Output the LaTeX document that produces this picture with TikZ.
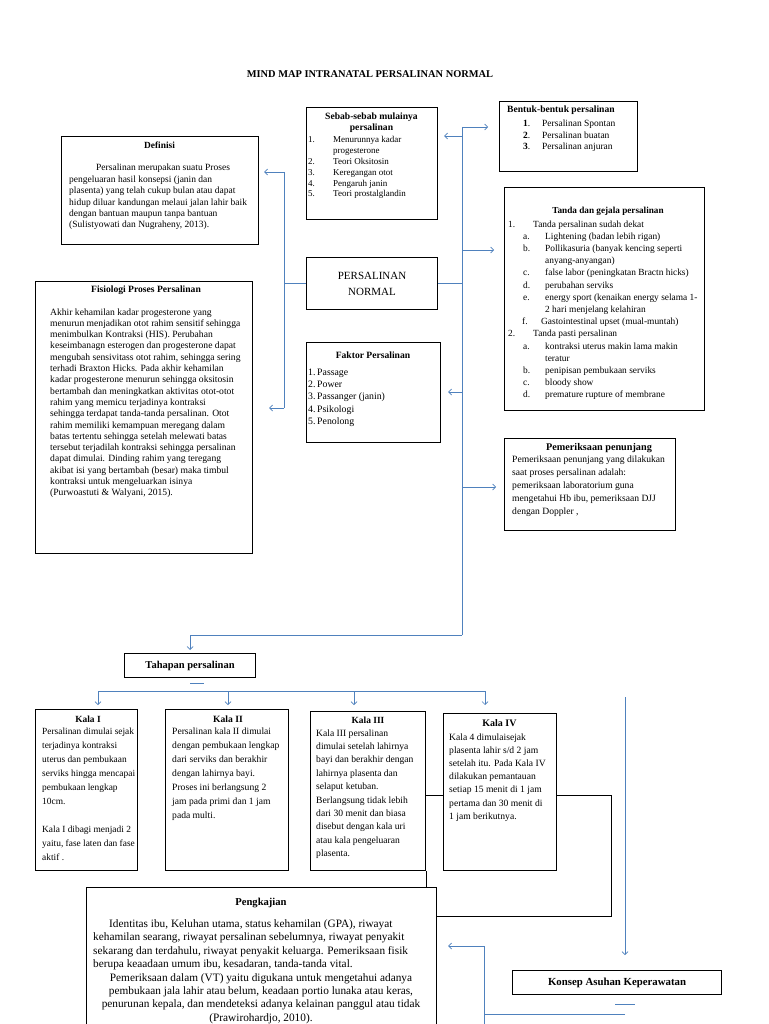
\documentclass[tikz,border=0pt]{standalone}
\usepackage{fontspec}
\setmainfont{Liberation Serif}
\usetikzlibrary{arrows.meta}
\definecolor{lineblue}{RGB}{79,129,189}
\newcommand\lbl[2]{\makebox[#1][l]{#2}}
\newcommand\fs[2]{\fontsize{#1}{#2}\selectfont}
\begin{document}
\begin{tikzpicture}[x=1pt,y=-1pt,
  box/.style={draw=black, line width=1.1pt, inner sep=0pt, anchor=north west},
  txt/.style={inner sep=0pt, align=left, anchor=base west},
  ctxt/.style={inner sep=0pt, align=center, anchor=base},
  conn/.style={draw=lineblue, line width=0.7pt},
  arr/.style={conn, -{Straight Barb[length=3pt,width=6pt]}},
  blk/.style={draw=black, line width=0.7pt}]
\useasboundingbox (0,0) rectangle (768,1024);
\fill[white] (0,0) rectangle (768,1024);

% title
\node[ctxt, font=\fs{10.4}{12}\bfseries] (title) at (370,78) {MIND MAP INTRANATAL PERSALINAN NORMAL};

% boxes
\node[box, minimum width=197pt, minimum height=108pt] (def) at (61,136) {};
\node[box, minimum width=131pt, minimum height=112pt] (seb) at (306,107) {};
\node[box, minimum width=138pt, minimum height=70pt] (ben) at (499,101) {};
\node[box, minimum width=200pt, minimum height=223pt] (tan) at (504,187) {};
\node[box, minimum width=131pt, minimum height=52pt, align=center, font=\fs{11}{16}] (pn) at (306,257) {PERSALINAN\\NORMAL};
\node[box, minimum width=217pt, minimum height=272pt] (fis) at (35,281) {};
\node[box, minimum width=134pt, minimum height=100pt] (fak) at (306,342) {};
\node[box, minimum width=171pt, minimum height=92pt] (pem) at (504,438) {};
\node[box, minimum width=131pt, minimum height=24pt, font=\fs{10.5}{12}\bfseries] (tah) at (124,653) {Tahapan persalinan};
\node[box, minimum width=102pt, minimum height=161pt] (k1) at (35,709) {};
\node[box, minimum width=123pt, minimum height=161pt] (k2) at (165,709) {};
\node[box, minimum width=115pt, minimum height=159pt] (k3) at (310,711) {};
\node[box, minimum width=113pt, minimum height=157pt] (k4) at (443,713) {};
\node[box, minimum width=350pt, minimum height=145pt] (pen) at (86,887) {};
\node[box, minimum width=209pt, minimum height=24pt, font=\fs{10.8}{12}\bfseries] (kon) at (512,970) {Konsep Asuhan Keperawatan};

% Definisi (multi-line nodes: base = last line's baseline)
\node[ctxt, font=\fs{9.4}{10}\bfseries] (defH) at (159.5,149) {Definisi};
\node[txt, font=\fs{9.5}{11.4}] (defT) at (69,228) {\hspace*{27pt}Persalinan merupakan suatu Proses\\pengeluaran hasil konsepsi (janin dan\\plasenta) yang telah cukup bulan atau dapat\\hidup diluar kandungan melaui jalan lahir baik\\dengan bantuan maupun tanpa bantuan\\(Sulistyowati dan Nugraheny, 2013).};

% Sebab
\node[ctxt, font=\fs{9.6}{10.8}\bfseries] (sebH) at (371.5,130.8) {Sebab-sebab mulainya\\persalinan};
\node[txt, font=\fs{9}{10.8}] (sebT) at (308,197) {\lbl{25pt}{1.}Menurunnya kadar\\\hspace*{25pt}progesterone\\\lbl{25pt}{2.}Teori Oksitosin\\\lbl{25pt}{3.}Keregangan otot\\\lbl{25pt}{4.}Pengaruh janin\\\lbl{25pt}{5.}Teori prostalglandin};

% Bentuk
\node[txt, font=\fs{9.6}{10}\bfseries] (benH) at (507,113) {Bentuk-bentuk persalinan};
\node[txt, font=\fs{9.5}{11.5}] (benT) at (523,150) {\lbl{19pt}{\textbf{1}.}Persalinan Spontan\\\lbl{19pt}{\textbf{2}.}Persalinan buatan\\\lbl{19pt}{\textbf{3}.}Persalinan anjuran};

% Tanda
\node[ctxt, font=\fs{9.2}{10}\bfseries] (tanH) at (608,214) {Tanda dan gejala persalinan};
\node[txt, font=\fs{9.4}{12.2}] (tanT) at (508,397.8) {\lbl{25pt}{1.}Tanda persalinan sudah dekat\\
\hspace*{15pt}\lbl{22pt}{a.}Lightening (badan lebih rigan)\\
\hspace*{15pt}\lbl{22pt}{b.}Pollikasuria (banyak kencing seperti\\
\hspace*{37pt}anyang-anyangan)\\
\hspace*{15pt}\lbl{22pt}{c.}false labor (peningkatan Bractn hicks)\\
\hspace*{15pt}\lbl{22pt}{d.}perubahan serviks\\
\hspace*{15pt}\lbl{22pt}{e.}energy sport (kenaikan energy selama 1-\\
\hspace*{37pt}2 hari menjelang kelahiran\\
\hspace*{14pt}\lbl{19pt}{f.}Gastointestinal upset (mual-muntah)\\
\lbl{25pt}{2.}Tanda pasti persalinan\\
\hspace*{15pt}\lbl{22pt}{a.}kontraksi uterus makin lama makin\\
\hspace*{37pt}teratur\\
\hspace*{15pt}\lbl{22pt}{b.}penipisan pembukaan serviks\\
\hspace*{15pt}\lbl{22pt}{c.}bloody show\\
\hspace*{15pt}\lbl{22pt}{d.}premature rupture of membrane};

% Fisiologi
\node[ctxt, font=\fs{9.6}{10}\bfseries] (fisH) at (146,292) {Fisiologi Proses Persalinan};
\node[txt, font=\fs{9.6}{11.3}] (fisT) at (50,495.8) {Akhir kehamilan kadar progesterone yang\\menurun menjadikan otot rahim sensitif sehingga\\menimbulkan Kontraksi (HIS). Perubahan\\keseimbanagn esterogen dan progesterone dapat\\mengubah sensivitass otot rahim, sehingga sering\\terhadi Braxton Hicks. Pada akhir kehamilan\\kadar progesterone menurun sehingga oksitosin\\bertambah dan meningkatkan aktivitas otot-otot\\rahim yang memicu terjadinya kontraksi\\sehingga terdapat tanda-tanda persalinan. Otot\\rahim memiliki kemampuan meregang dalam\\batas tertentu sehingga setelah melewati batas\\tersebut terjadilah kontraksi sehingga persalinan\\dapat dimulai. Dinding rahim yang teregang\\akibat isi yang bertambah (besar) maka timbul\\kontraksi untuk mengeluarkan isinya\\(Purwoastuti \& Walyani, 2015).};

% Faktor
\node[ctxt, font=\fs{9.6}{10}\bfseries] (fakH) at (373,358) {Faktor Persalinan};
\node[txt, font=\fs{9.8}{12.4}] (fakT) at (308,424.6) {\lbl{9pt}{1.}Passage\\\lbl{9pt}{2.}Power\\\lbl{9pt}{3.}Passanger (janin)\\\lbl{9pt}{4.}Psikologi\\\lbl{9pt}{5.}Penolong};

% Pemeriksaan
\node[ctxt, font=\fs{10.2}{10}\bfseries] (pemH) at (599,450) {Pemeriksaan penunjang};
\node[txt, font=\fs{9.6}{13}] (pemT) at (512,514) {Pemeriksaan penunjang yang dilakukan\\saat proses persalinan adalah:\\pemeriksaan laboratorium guna\\mengetahui Hb ibu, pemeriksaan DJJ\\dengan Doppler ,};

% Kala I-IV
\node[ctxt, font=\fs{9.4}{10}\bfseries] (k1H) at (88,722) {Kala I};
\node[txt, font=\fs{9.4}{14}] (k1T) at (42,860) {Persalinan dimulai sejak\\terjadinya kontraksi\\uterus dan pembukaan\\serviks hingga mencapai\\pembukaan lengkap\\10cm.\\[14pt]Kala I dibagi menjadi 2\\yaitu, fase laten dan fase\\aktif .};
\node[ctxt, font=\fs{9.6}{10}\bfseries] (k2H) at (228,722) {Kala II};
\node[txt, font=\fs{9.6}{14}] (k2T) at (172,818) {Persalinan kala II dimulai\\dengan pembukaan lengkap\\dari serviks dan berakhir\\dengan lahirnya bayi.\\Proses ini berlangsung 2\\jam pada primi dan 1 jam\\pada multi.};
\node[ctxt, font=\fs{9.4}{10}\bfseries] (k3H) at (368,723) {Kala III};
\node[txt, font=\fs{9.6}{13.4}] (k3T) at (316,856.6) {Kala III persalinan\\dimulai setelah lahirnya\\bayi dan berakhir dengan\\lahirnya plasenta dan\\selaput ketuban.\\Berlangsung tidak lebih\\dari 30 menit dan biasa\\disebut dengan kala uri\\atau kala pengeluaran\\plasenta.};
\node[ctxt, font=\fs{10}{10}\bfseries] (k4H) at (499.5,726) {Kala IV};
\node[txt, font=\fs{9.6}{13.2}] (k4T) at (449,819.2) {Kala 4 dimulaisejak\\plasenta lahir s/d 2 jam\\setelah itu. Pada Kala IV\\dilakukan pemantauan\\setiap 15 menit di 1 jam\\pertama dan 30 menit di\\1 jam berikutnya.};

% Pengkajian
\node[ctxt, font=\fs{10.6}{10}\bfseries] (penH) at (261,905) {Pengkajian};
\node[txt, font=\fs{11.3}{13.6}] (penT) at (93,967.8) {\hspace*{16pt}Identitas ibu, Keluhan utama, status kehamilan (GPA), riwayat\\kehamilan searang, riwayat persalinan sebelumnya, riwayat penyakit\\sekarang dan terdahulu, riwayat penyakit keluarga. Pemeriksaan fisik\\berupa keaadaan umum ibu, kesadaran, tanda-tanda vital.};
\node[ctxt, font=\fs{11.3}{13.2}] (penT2) at (261,1021) {Pemeriksaan dalam (VT) yaitu digukana untuk mengetahui adanya\\pembukaan jala lahir atau belum, keadaan portio lunaka atau keras,\\penurunan kepala, dan mendeteksi adanya kelainan panggul atau tidak\\(Prawirohardjo, 2010).};

% blue connectors: spine
\coordinate (spTop) at (462,127);
\coordinate (spBot) at (462,635);
\coordinate (jSeb) at (462,136);
\coordinate (jTan) at (462,250);
\coordinate (jFak) at (462,392);
\coordinate (jPem) at (462,487);
\draw[conn] (pn.east) -- (pn.east -| spTop);
\draw[conn] (spTop) -- (spBot);
\draw[arr, shorten >=11pt] (spTop) -- (spTop -| ben.west);
\draw[arr, shorten >=6pt] (jSeb) -- (jSeb -| seb.east);
\draw[arr, shorten >=10pt] (jTan) -- (jTan -| tan.west);
\draw[arr, shorten >=7pt] (jFak) -- (jFak -| fak.east);
\draw[arr, shorten >=8pt] (jPem) -- (jPem -| pem.west);
\draw[arr, shorten >=3pt] (spBot) -- (spBot -| tah.north) -- (tah.north);

% left branch
\coordinate (lTop) at (284,172);
\coordinate (lBot) at (284,408);
\draw[conn] (pn.west) -- (pn.west -| lTop);
\draw[conn] (lTop) -- (lBot);
\draw[arr, shorten >=5pt] (lTop) -- (lTop -| def.east);
\draw[arr, shorten >=16pt] (lBot) -- (lBot -| fis.east);

% Tahapan to Kala
\draw[conn] (190,683) -- (204,683);
\coordinate (bar1) at (98,691);
\coordinate (bar2) at (228,691);
\coordinate (bar3) at (354,691);
\coordinate (bar4) at (485,691);
\draw[conn] (bar1) -- (bar4);
\draw[arr, shorten >=4pt] (bar1) -- (bar1 |- k1.north);
\draw[arr, shorten >=4pt] (bar2) -- (bar2 |- k2.north);
\draw[arr, shorten >=6pt] (bar3) -- (bar3 |- k3.north);
\draw[arr, shorten >=8pt] (bar4) -- (bar4 |- k4.north);

% Konsep
\coordinate (kTop) at (625,697);
\draw[arr, shorten >=15pt] (kTop) -- (kTop |- kon.north);
\draw[conn] (615,1004) -- (635,1004);
\coordinate (rA) at (625,1014);
\coordinate (rB) at (484,1014);
\coordinate (rC) at (484,946);
\draw[conn] (484,1030) -- (rB);
\draw[arr, shorten >=11pt] (rA) -- (rB) -- (rC) -- (rC -| pen.east);

% black lines
\coordinate (m1) at (611,795);
\coordinate (m2) at (611,916);
\draw[blk] (k3.east |- m1) -- (k4.west |- m1);
\draw[blk] (k4.east |- m1) -- (m1) -- (m2) -- (pen.east |- m2);
\draw[blk] (k3.south east) -- (k3.south east |- pen.north);
\end{tikzpicture}
\end{document}
